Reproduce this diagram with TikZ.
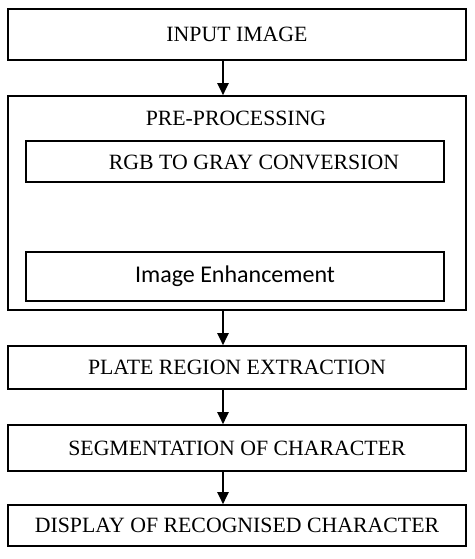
\documentclass[tikz,border=0pt]{standalone}
\usepackage{fontspec}
\setmainfont{Liberation Serif}
\newfontfamily\calibrifont{Carlito}
\usetikzlibrary{arrows.meta,positioning}

\begin{document}
\begin{tikzpicture}[
  x=1pt, y=-1pt,
  >={Triangle[length=12pt,width=11pt]},
  every node/.style={font=\fontsize{21.8}{26}\selectfont},
  stagebox/.style={draw, line width=1.6pt, minimum width=458pt, inner sep=0pt},
  innerbox/.style={draw, line width=1.6pt, minimum width=418pt, inner sep=0pt},
  flow/.style={->, line width=2pt}
]
  \useasboundingbox (0,0) rectangle (474,559);

  \node[stagebox, minimum height=51pt] (input) at (237,34.5) {INPUT IMAGE};

  \node[stagebox, minimum height=214pt] (pre) at (237,203) {};
  \node (pretitle) at (236,118) {PRE-PROCESSING};
  \node[innerbox, minimum height=41pt] (rgbbox) at (235,161.5) {};
  \node (rgb) at (254,162) {RGB TO GRAY CONVERSION};
  \node[innerbox, minimum height=49pt, font=\calibrifont\fontsize{24}{28}\selectfont] (enh) at (235,276.5) {Image Enhancement};

  \node[stagebox, minimum height=43pt] (plate) at (237,367.5) {PLATE REGION EXTRACTION};
  \node[stagebox, minimum height=46pt] (seg) at (237,448) {SEGMENTATION OF CHARACTER};
  \node[stagebox, minimum height=41pt] (disp) at (237,525.5) {DISPLAY OF RECOGNISED CHARACTER};

  \draw[flow] (input.south -| 223,0) -- (pre.north -| 223,0);
  \draw[flow] (pre.south -| 223,0) -- (plate.north -| 223,0);
  \draw[flow] (plate.south -| 223,0) -- (seg.north -| 223,0);
  \draw[flow] (seg.south -| 223,0) -- (disp.north -| 223,0);
\end{tikzpicture}
\end{document}
